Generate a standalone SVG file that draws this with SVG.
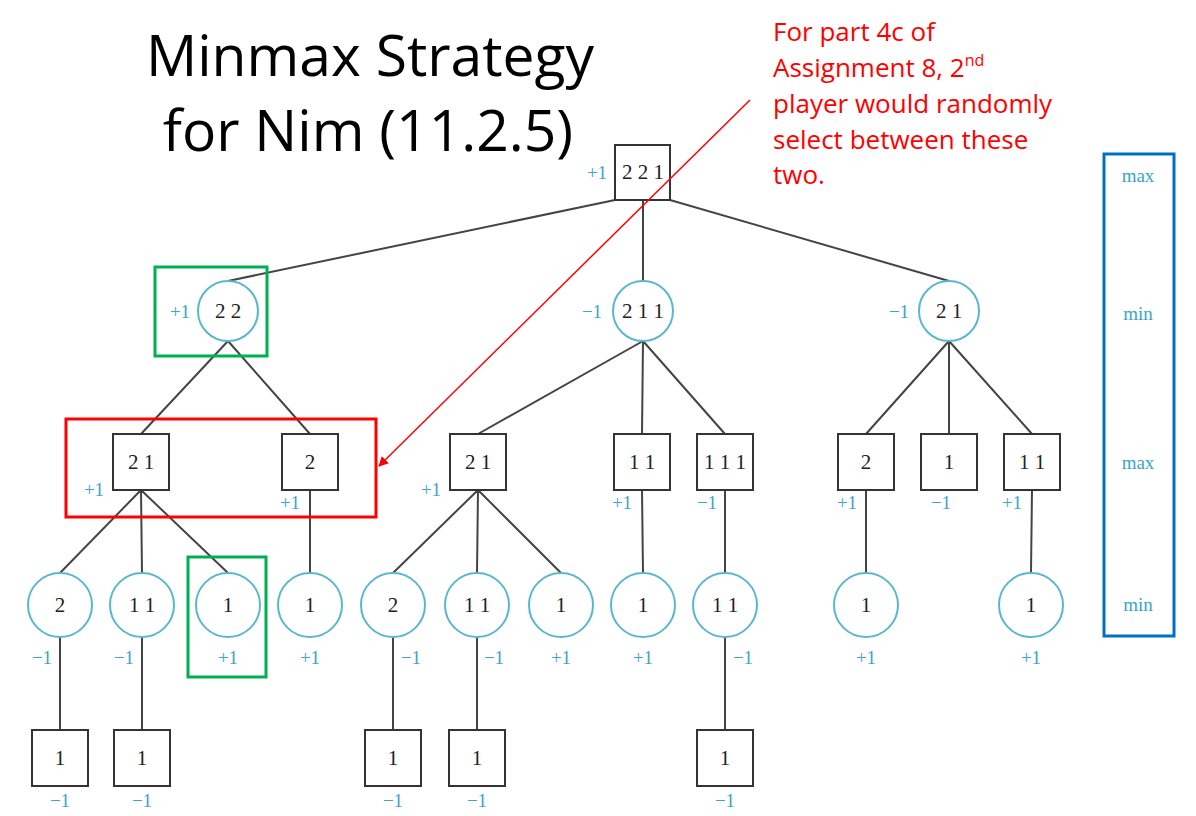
<svg xmlns="http://www.w3.org/2000/svg" width="1196" height="816" viewBox="0 0 1196 816">
<style>
.sq{fill:#fff;stroke:#333;stroke-width:2}
.ci{fill:#fff;stroke:#5ab8cc;stroke-width:2}
.n{font-family:"Liberation Serif",serif;font-size:21px;fill:#222;text-anchor:middle;dominant-baseline:central}
.v{font-family:"Liberation Serif",serif;font-size:19px;fill:#3aa6c4;text-anchor:middle;dominant-baseline:central}
.lvl{font-family:"Liberation Serif",serif;font-size:19px;fill:#3aa6c4;text-anchor:middle;dominant-baseline:central}
.e{stroke:#444;stroke-width:2;fill:none}
.t{font-family:"Open Sans","Liberation Sans",sans-serif;font-size:57px;fill:#000;text-anchor:middle}
.r{font-family:"Open Sans","Liberation Sans",sans-serif;font-size:26px;fill:#f00}
</style>
<defs><marker id="ah" markerWidth="10" markerHeight="10" refX="9" refY="5" orient="auto" markerUnits="userSpaceOnUse"><path d="M0,0 L10,5 L0,10 z" fill="#f00"/></marker></defs>
<rect width="1196" height="816" fill="#fff"/>
<text class="t" x="370" y="76">Minmax Strategy</text>
<text class="t" x="368" y="151">for Nim (11.2.5)</text>
<g id="note">
<text class="r" x="773" y="41">For part 4c of</text>
<text class="r" x="773" y="77">Assignment 8, 2<tspan font-size="16" dy="-11">nd</tspan></text>
<text class="r" x="773" y="113">player would randomly</text>
<text class="r" x="773" y="149">select between these</text>
<text class="r" x="773" y="184">two.</text>
</g>
<g id="edges">
<path class="e" d="M615,200L228,281M643,200L643,281M670,200L949,281"/>
<path class="e" d="M228,341L141,434M228,341L310,434M643,341L478,434M643,341L642,434M643,341L725,434M949,341L866,434M949,341L949,434M949,341L1032,434"/>
<path class="e" d="M141,490L60,573M141,490L142,573M141,490L228,573M310,490L310,573M478,490L393,573M478,490L477,573M478,490L561,573M642,490L643,573M725,490L725,573M866,490L866,573M1032,490L1031,573"/>
<path class="e" d="M60,637L60,730M142,637L142,730M393,637L393,730M477,637L477,730M725,637L725,730"/>
</g>
<g id="root"><rect class="sq" x="615" y="145" width="55" height="55"/><text class="n" x="643" y="172">2 2 1</text><text class="v" x="597" y="172">+1</text></g>
<g id="l1a"><circle class="ci" cx="228" cy="311" r="30"/><text class="n" x="228" y="311">2 2</text><text class="v" x="180" y="311">+1</text></g>
<g id="l1b"><circle class="ci" cx="643" cy="311" r="30"/><text class="n" x="643" y="311">2 1 1</text><text class="v" x="592" y="311">−1</text></g>
<g id="l1c"><circle class="ci" cx="949" cy="311" r="30"/><text class="n" x="949" y="311">2 1</text><text class="v" x="899" y="311">−1</text></g>
<g id="l2">
<g id="b21a"><rect class="sq" x="113" y="434" width="56" height="56"/><text class="n" x="141" y="462">2 1</text><text class="v" x="94" y="489">+1</text></g>
<g id="b2a"><rect class="sq" x="282" y="434" width="56" height="56"/><text class="n" x="310" y="462">2</text><text class="v" x="290" y="502">+1</text></g>
<g id="b21b"><rect class="sq" x="450" y="434" width="56" height="56"/><text class="n" x="478" y="462">2 1</text><text class="v" x="431" y="489">+1</text></g>
<g id="b11a"><rect class="sq" x="614" y="434" width="56" height="56"/><text class="n" x="642" y="462">1 1</text><text class="v" x="622" y="502">+1</text></g>
<g id="b111"><rect class="sq" x="697" y="434" width="56" height="56"/><text class="n" x="725" y="462">1 1 1</text><text class="v" x="707" y="502">−1</text></g>
<g id="b2b"><rect class="sq" x="838" y="434" width="56" height="56"/><text class="n" x="866" y="462">2</text><text class="v" x="847" y="502">+1</text></g>
<g id="b1"><rect class="sq" x="921" y="434" width="56" height="56"/><text class="n" x="949" y="462">1</text><text class="v" x="941" y="502">−1</text></g>
<g id="b11b"><rect class="sq" x="1004" y="434" width="56" height="56"/><text class="n" x="1032" y="462">1 1</text><text class="v" x="1012" y="502">+1</text></g>
</g>
<g id="l3">
<g id="c1"><circle class="ci" cx="60" cy="605" r="32"/><text class="n" x="60" y="605">2</text><text class="v" x="42" y="657">−1</text></g>
<g id="c2"><circle class="ci" cx="142" cy="605" r="32"/><text class="n" x="142" y="605">1 1</text><text class="v" x="124" y="657">−1</text></g>
<g id="c3"><circle class="ci" cx="228" cy="605" r="32"/><text class="n" x="228" y="605">1</text><text class="v" x="228" y="657">+1</text></g>
<g id="c4"><circle class="ci" cx="310" cy="605" r="32"/><text class="n" x="310" y="605">1</text><text class="v" x="310" y="657">+1</text></g>
<g id="c5"><circle class="ci" cx="393" cy="605" r="32"/><text class="n" x="393" y="605">2</text><text class="v" x="411" y="657">−1</text></g>
<g id="c6"><circle class="ci" cx="477" cy="605" r="32"/><text class="n" x="477" y="605">1 1</text><text class="v" x="494" y="657">−1</text></g>
<g id="c7"><circle class="ci" cx="561" cy="605" r="32"/><text class="n" x="561" y="605">1</text><text class="v" x="561" y="657">+1</text></g>
<g id="c8"><circle class="ci" cx="643" cy="605" r="32"/><text class="n" x="643" y="605">1</text><text class="v" x="643" y="657">+1</text></g>
<g id="c9"><circle class="ci" cx="725" cy="605" r="32"/><text class="n" x="725" y="605">1 1</text><text class="v" x="743" y="657">−1</text></g>
<g id="c10"><circle class="ci" cx="866" cy="605" r="32"/><text class="n" x="866" y="605">1</text><text class="v" x="866" y="657">+1</text></g>
<g id="c11"><circle class="ci" cx="1031" cy="605" r="32"/><text class="n" x="1031" y="605">1</text><text class="v" x="1031" y="657">+1</text></g>
</g>
<g id="l4">
<g id="d1"><rect class="sq" x="32" y="730" width="56" height="56"/><text class="n" x="60" y="758">1</text><text class="v" x="60" y="800">−1</text></g>
<g id="d2"><rect class="sq" x="114" y="730" width="56" height="56"/><text class="n" x="142" y="758">1</text><text class="v" x="142" y="800">−1</text></g>
<g id="d3"><rect class="sq" x="365" y="730" width="56" height="56"/><text class="n" x="393" y="758">1</text><text class="v" x="393" y="800">−1</text></g>
<g id="d4"><rect class="sq" x="449" y="730" width="56" height="56"/><text class="n" x="477" y="758">1</text><text class="v" x="477" y="800">−1</text></g>
<g id="d5"><rect class="sq" x="697" y="730" width="56" height="56"/><text class="n" x="725" y="758">1</text><text class="v" x="725" y="800">−1</text></g>
</g>
<g id="highlights" fill="none">
<rect x="155" y="267" width="112" height="89" stroke="#00b050" stroke-width="3"/>
<rect x="188" y="557" width="78" height="120" stroke="#00b050" stroke-width="3"/>
<rect x="66" y="419" width="310" height="98" stroke="#f00" stroke-width="3"/>
<rect x="1104" y="154" width="70" height="482" stroke="#0070c0" stroke-width="3"/>
<line x1="750" y1="100" x2="379" y2="466" stroke="#f00" stroke-width="1.5" marker-end="url(#ah)"/>
</g>
<g id="levels">
<text class="lvl" x="1138" y="175">max</text>
<text class="lvl" x="1138" y="313">min</text>
<text class="lvl" x="1138" y="462">max</text>
<text class="lvl" x="1138" y="604">min</text>
</g>
</svg>
